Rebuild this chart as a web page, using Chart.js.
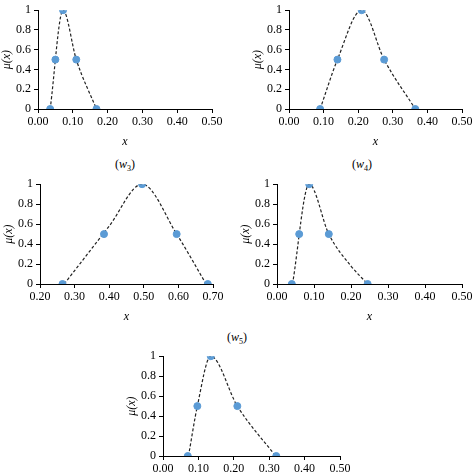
<!DOCTYPE html>
<html>
<head>
<meta charset="utf-8">
<script src="https://cdn.jsdelivr.net/npm/chart.js@4/dist/chart.umd.min.js"></script>
<style>
  body { margin: 0; background: #fff; width: 474px; height: 474px; position: relative; overflow: hidden; }
  canvas { position: absolute; }
  .cap { position: absolute; font: 12px "Liberation Serif", serif; transform: translateX(-50%); }
</style>
</head>
<body>
<div class="cap" style="left:125px;top:157px">(<i>w</i><sub style="font-size:8px">3</sub>)</div>
<div class="cap" style="left:362px;top:157px">(<i>w</i><sub style="font-size:8px">4</sub>)</div>
<div class="cap" style="left:237px;top:330px">(<i>w</i><sub style="font-size:8px">5</sub>)</div>
<script>
// membership points per panel
const w1Points = [[0.035, 0], [0.05, 0.5], [0.072, 1], [0.11, 0.5], [0.168, 0]];
const w1Curve = [[0.035, 0], [0.072, 1], [0.11, 0.5], [0.168, 0]];
const w2Points = [[0.09, 0], [0.14, 0.5], [0.21, 1], [0.275, 0.5], [0.365, 0]];
const w2Curve = [[0.09, 0], [0.14, 0.5], [0.21, 1], [0.275, 0.5], [0.365, 0]];
const w3Points = [[0.265, 0], [0.385, 0.5], [0.495, 1], [0.595, 0.5], [0.685, 0]];
const w3Curve = [[0.27, 0], [0.4, 0.58], [0.495, 1], [0.595, 0.5], [0.68, 0]];
const w4Points = [[0.04, 0], [0.06, 0.5], [0.087, 1], [0.14, 0.5], [0.245, 0]];
const w4Curve = [[0.042, 0], [0.087, 1], [0.14, 0.5], [0.2, 0.18], [0.245, 0]];
const w5Points = [[0.07, 0], [0.097, 0.5], [0.135, 1], [0.21, 0.5], [0.32, 0]];
const w5Curve = [[0.072, 0], [0.097, 0.5], [0.135, 1], [0.21, 0.5], [0.318, 0]];

const font = { family: '"Liberation Serif", serif', size: 12 };

function make(plot, pts, curve, xmin, xmax) {
    const yW = 38, padR = 14, padT = 9, xH = 40;
    const c = document.createElement('canvas');
    const w = plot.right - plot.left + yW + padR;
    const h = plot.bottom - plot.top + padT + xH;
    c.style.left = (plot.left - yW) + 'px';
    c.style.top = (plot.top - padT) + 'px';
    c.style.width = w + 'px';
    c.style.height = h + 'px';
    c.width = w; c.height = h;
    document.body.appendChild(c);
    const toXY = a => a.map(p => ({ x: p[0], y: p[1] }));
    new Chart(c, {
        type: 'scatter',
        data: {
            datasets: [{
                data: toXY(pts), backgroundColor: '#5b9bd5', borderColor: '#5b9bd5',
                pointRadius: 3.5, showLine: false, order: 1
            }, {
                data: toXY(curve), showLine: true, borderColor: '#222', borderWidth: 1.2,
                borderDash: [3, 2], pointRadius: 0, tension: 0.25,
                cubicInterpolationMode: 'monotone', order: 2
            }]
        },
        options: {
            animation: false, responsive: false,
            layout: { padding: { top: padT, right: padR } },
            plugins: { legend: { display: false }, tooltip: { enabled: false } },
            scales: {
                x: {
                    type: 'linear', min: xmin, max: xmax,
                    afterFit: s => { s.height = xH; },
                    border: { color: '#000' },
                    grid: { drawOnChartArea: false, color: '#000', tickLength: 4 },
                    ticks: { stepSize: 0.1, color: '#000', font, maxRotation: 0, padding: 2,
                        callback: v => v.toFixed(2) },
                    title: { display: true, text: 'x', color: '#000', padding: 0,
                        font: { ...font, style: 'italic' } }
                },
                y: {
                    min: 0, max: 1,
                    afterFit: s => { s.width = yW; },
                    border: { color: '#000' },
                    grid: { drawOnChartArea: false, color: '#000', tickLength: 4 },
                    ticks: { stepSize: 0.2, color: '#000', font, padding: 3,
                        callback: v => v === 0 ? '0' : v === 1 ? '1' : v.toFixed(1) },
                    title: { display: true, text: 'μ(x)', color: '#000', padding: 0,
                        font: { ...font, style: 'italic' } }
                }
            }
        }
    });
}

make({ left: 38, right: 212, top: 9, bottom: 109 }, w1Points, w1Curve, 0, 0.5);
make({ left: 289, right: 462, top: 9, bottom: 109 }, w2Points, w2Curve, 0, 0.5);
make({ left: 40, right: 213, top: 183, bottom: 284 }, w3Points, w3Curve, 0.2, 0.7);
make({ left: 277, right: 462, top: 183, bottom: 284 }, w4Points, w4Curve, 0, 0.5);
make({ left: 163, right: 340, top: 355, bottom: 456 }, w5Points, w5Curve, 0, 0.5);
</script>
</body>
</html>
